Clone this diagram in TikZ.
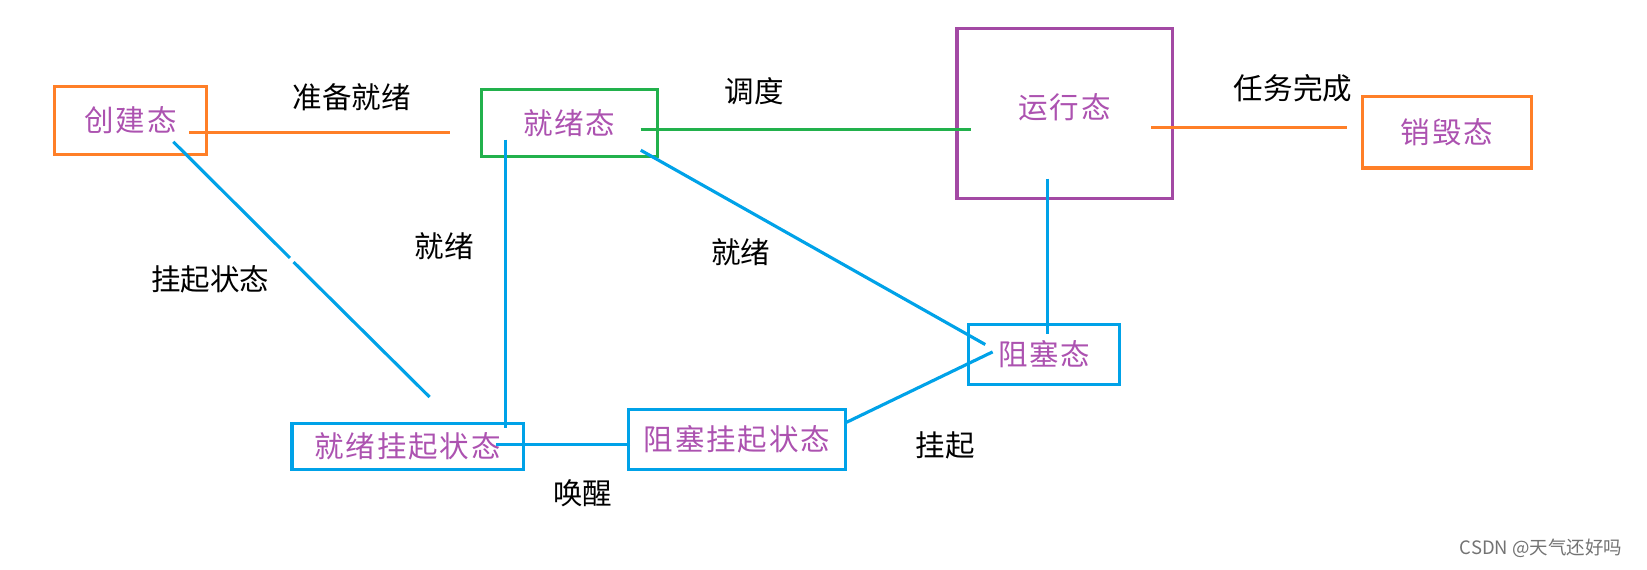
\documentclass[tikz,border=0pt]{standalone}
\usepackage{fontspec}
\newfontfamily\cjk{Noto Sans CJK SC}
\newfontfamily\cjkwide[LetterSpace=6]{Noto Sans CJK SC}
\definecolor{porange}{RGB}{255,127,39}
\definecolor{pgreen}{RGB}{34,177,76}
\definecolor{ppurple}{RGB}{163,73,164}
\definecolor{pblue}{RGB}{0,162,232}
\definecolor{ptext}{RGB}{172,82,176}
\begin{document}
\begin{tikzpicture}[x=0.02cm,y=-0.02cm,
		box/.style={draw,line width=1.7pt,inner sep=0pt,text=ptext,font=\cjkwide\fontsize{16}{19}\selectfont},
		lbl/.style={font=\cjk\fontsize{16}{19}\selectfont,text=black},
		wire/.style={line width=1.7pt}]
	\useasboundingbox (0,0) rectangle (1568,542);

	\node[box,draw=porange,minimum width=2.9cm,minimum height=1.3cm] (create) at (124.5,114.5) {创建态};
	\node[box,draw=pgreen,minimum width=3.36cm,minimum height=1.28cm] (ready) at (542,117) {就绪态};
	\node[box,draw=ppurple,minimum width=4.1cm,minimum height=3.24cm] (run) at (1013.5,108) {\raisebox{0.3cm}{运行态}};
	\node[box,draw=porange,minimum width=3.22cm,minimum height=1.36cm] (done) at (1377.5,126) {销毁态};
	\node[box,draw=pblue,minimum width=2.88cm,minimum height=1.14cm] (block) at (994,337.5) {阻塞态};
	\node[box,draw=pblue,minimum width=4.14cm,minimum height=1.14cm] (blocksus) at (701.5,418.5) {阻塞挂起状态};
	\node[box,draw=pblue,minimum width=4.4cm,minimum height=0.88cm] (readysus) at (388,425) {就绪挂起状态};

	\coordinate (c1) at (180,126);   \coordinate (c2) at (428,126);
	\coordinate (r1) at (610,123);   \coordinate (r2) at (924,123);
	\coordinate (u1) at (1096,121);  \coordinate (u2) at (1282,121);
	\coordinate (u3) at (997,170);   \coordinate (b1) at (997,318);
	\coordinate (r3) at (610,143);   \coordinate (b2) at (938,328);
	\coordinate (b3) at (945,335);   \coordinate (s1) at (806,402);
	\coordinate (s2) at (600,423);   \coordinate (s3) at (472,423);
	\coordinate (r4) at (481,133);   \coordinate (s4) at (481,407);
	\coordinate (c3) at (165,135);   \coordinate (g1) at (276,245.5);
	\coordinate (g2) at (279.5,249.5); \coordinate (s5) at (409,378);

	\draw[wire,porange] (c1) -- (c2);
	\draw[wire,pgreen] (r1) -- (r2);
	\draw[wire,porange] (u1) -- (u2);
	\draw[wire,pblue] (u3) -- (b1);
	\draw[wire,pblue] (r3) -- (b2);
	\draw[wire,pblue] (b3) -- (s1);
	\draw[wire,pblue] (s2) -- (s3);
	\draw[wire,pblue] (r4) -- (s4);
	\draw[wire,pblue] (c3) -- (g1);
	\draw[wire,pblue] (g2) -- (s5);

	\node[lbl] (l1) at (335,93) {准备就绪};
	\node[lbl] (l2) at (718,87) {调度};
	\node[lbl] (l3) at (1231,84) {任务完成};
	\node[lbl] (l4) at (423,234) {就绪};
	\node[lbl] (l5) at (705,240) {就绪};
	\node[lbl] (l6) at (200,266) {挂起状态};
	\node[lbl] (l7) at (900,424) {挂起};
	\node[lbl] (l8) at (555,470) {唤醒};
	\node[font=\cjk\fontsize{10}{12}\selectfont,text=black!55] (mark) at (1467,522) {CSDN @天气还好吗};
\end{tikzpicture}
\end{document}
